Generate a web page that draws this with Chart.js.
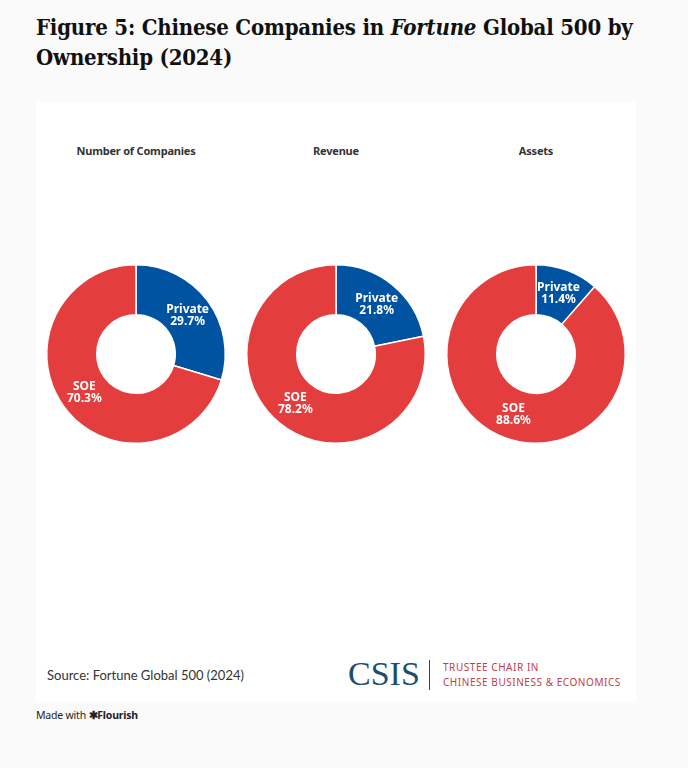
<!DOCTYPE html>
<html>
<head>
<meta charset="utf-8">
<script src="https://cdn.jsdelivr.net/npm/chart.js@4"></script>
<style>
  body { margin: 0; background: #fafafa; width: 688px; height: 768px; position: relative; font-family: "Open Sans", sans-serif; }
  #title { position: absolute; left: 36px; top: 12px; width: 645px; font-family: "DejaVu Serif Condensed", "DejaVu Serif", serif; font-stretch: condensed; font-weight: bold; font-size: 22px; line-height: 30px; color: #111; letter-spacing: -0.2px; }
  #card { position: absolute; left: 36px; top: 102px; width: 600px; height: 600px; background: #fff; }
  .col { position: absolute; top: 0; width: 200px; height: 400px; }
  .col h3 { position: absolute; top: 41px; left: 0; width: 200px; margin: 0; text-align: center; font-size: 11px; font-weight: bold; color: #333; font-family: "Noto Sans", sans-serif; letter-spacing: -0.2px; }
  .col .wrap { position: absolute; top: 152px; left: 0; width: 200px; height: 200px; }
  #source { position: absolute; left: 11px; top: 565px; font-size: 13px; color: #333; font-family: "Lato", sans-serif; }
  #csis { position: absolute; left: 312px; top: 553px; font-family: "Liberation Serif", serif; font-size: 34px; color: #1d4f6c; letter-spacing: 0; }
  #bar { position: absolute; left: 393px; top: 558px; width: 1px; height: 30px; background: #1d4f6c; }
  #chair { position: absolute; left: 407px; top: 558px; font-size: 10px; line-height: 15px; color: #c0404a; font-family: "Noto Sans", sans-serif; letter-spacing: 0.55px; }
  #made { position: absolute; left: 36px; top: 708px; font-size: 10.5px; color: #222; font-family: "Noto Sans", sans-serif; letter-spacing: -0.2px; }
</style>
</head>
<body>
<div id="title">Figure 5: Chinese Companies in <i>Fortune</i> Global 500 by Ownership (2024)</div>
<div id="card">
  <div class="col" style="left:0"><h3 id="t0"></h3><div class="wrap"><canvas id="c0"></canvas></div></div>
  <div class="col" style="left:200px"><h3 id="t1"></h3><div class="wrap"><canvas id="c1"></canvas></div></div>
  <div class="col" style="left:400px"><h3 id="t2"></h3><div class="wrap"><canvas id="c2"></canvas></div></div>
  <div id="source">Source: Fortune Global 500 (2024)</div>
  <div id="csis">CSIS</div>
  <div id="bar"></div>
  <div id="chair">TRUSTEE CHAIR IN<br>CHINESE BUSINESS &amp; ECONOMICS</div>
</div>
<div id="made">Made with <b>&#x2731;Flourish</b></div>
<script>
const categories = ["Private", "SOE"];
const chartTitles = ["Number of Companies", "Revenue", "Assets"];
const companies = [29.7, 70.3];
const revenue = [21.8, 78.2];
const assets = [11.4, 88.6];
const colors = ["#0053a1", "#e43d3d"];

// draw "Private / 29.7%" inside each slice
const sliceLabels = {
  id: "sliceLabels",
  afterDatasetsDraw(chart) {
    const ctx = chart.ctx;
    const ds = chart.data.datasets[0];
    chart.getDatasetMeta(0).data.forEach((arc, i) => {
      const p = arc.tooltipPosition();
      ctx.save();
      ctx.fillStyle = "#fff";
      ctx.font = "bold 12px 'Noto Sans', sans-serif";
      ctx.textAlign = "center";
      ctx.textBaseline = "middle";
      ctx.fillText(chart.data.labels[i], p.x, p.y - 6);
      ctx.fillText(ds.data[i].toFixed(1) + "%", p.x, p.y + 6);
      ctx.restore();
    });
  }
};

window.createChart = function (id, values) {
  const ctx = document.getElementById(id).getContext("2d");
  return new Chart(ctx, {
    type: "doughnut",
    data: {
      labels: categories,
      datasets: [
        {
          data: values,
          backgroundColor: colors,
          borderColor: "#fff",
          borderWidth: 1.5,
        },
      ],
    },
    options: {
      responsive: true,
      maintainAspectRatio: false,
      animation: false,
      cutout: "44%",
      layout: { padding: 10 },
      plugins: {
        legend: { display: false },
        tooltip: { enabled: false },
      },
    },
    plugins: [sliceLabels],
  });
};

[companies, revenue, assets].forEach((vals, i) => {
  document.getElementById("t" + i).textContent = chartTitles[i];
  createChart("c" + i, vals);
});
</script>
</body>
</html>
